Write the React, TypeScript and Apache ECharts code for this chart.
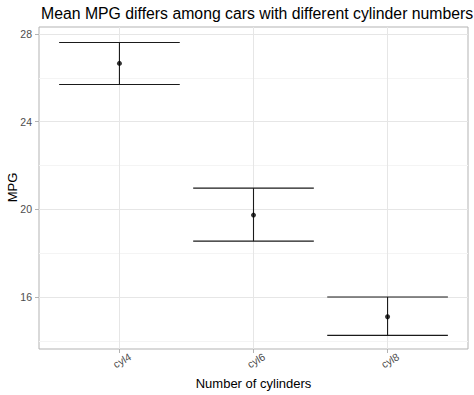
import React, { useEffect, useRef } from "react";
import * as echarts from "echarts";

const categories = ["cyl4", "cyl6", "cyl8"];
const means = [26.66, 19.74, 15.1];
const lowers = [25.7, 18.55, 14.25];
const uppers = [27.61, 20.97, 16.0];
const yMajorTicks = [16, 20, 24, 28];
const yMinorTicks = [14, 18, 22, 26];
const xTicks = [1, 2, 3];

export default function App() {
  const ref = useRef<HTMLDivElement>(null);
  useEffect(() => {
    if (!ref.current) return;
    const chart = echarts.init(ref.current, null, { renderer: "svg" });
    const font = "Liberation Sans, Arial, sans-serif";
    const barData = categories.map((_, i) => [i + 1, lowers[i], uppers[i]]);
    const pointData = categories.map((_, i) => [i + 1, means[i]]);
    const gridLine = (v: number, axis: "x" | "y", color: string) =>
      axis === "x"
        ? { xAxis: v, lineStyle: { color, width: 1, type: "solid" } }
        : { yAxis: v, lineStyle: { color, width: 1, type: "solid" } };
    chart.setOption({
      animation: false,
      backgroundColor: "#ffffff",
      title: {
        text: "Mean MPG differs among cars with different cylinder numbers",
        left: 36,
        top: 0,
        textStyle: { fontFamily: font, fontSize: 15.8, fontWeight: "normal", color: "#000000" },
      },
      graphic: [
        {
          type: "text",
          x: 12.5,
          y: 187.5,
          rotation: Math.PI / 2,
          style: {
            text: "MPG",
            fontFamily: font,
            fontSize: 13,
            fill: "#000000",
            align: "center",
            verticalAlign: "middle",
          },
        },
      ],
      grid: {
        left: 39,
        right: 6,
        top: 27,
        bottom: 46,
        containLabel: false,
        outerBoundsMode: "none",
        show: true,
        borderColor: "#b3b3b3",
        borderWidth: 1,
        backgroundColor: "transparent",
      },
      xAxis: {
        type: "value",
        min: 0.4,
        max: 3.6,
        name: "Number of cylinders",
        nameLocation: "middle",
        nameGap: 25,
        nameTextStyle: { fontFamily: font, fontSize: 13, color: "#000000" },
        axisLine: { show: false },
        axisTick: { show: true, length: 4, customValues: xTicks, lineStyle: { color: "#b3b3b3" } },
        axisLabel: {
          customValues: xTicks,
          formatter: (v: number) => categories[Math.round(v) - 1] ?? "",
          rotate: 30,
          align: "center",
          verticalAlign: "top",
          margin: 7,
          fontFamily: font,
          fontSize: 10.5,
          color: "#4d4d4d",
        },
        splitLine: { show: false },
      },
      yAxis: {
        type: "value",
        min: 13.63,
        max: 28.32,
        axisLine: { show: false },
        axisTick: { show: true, length: 4, customValues: yMajorTicks, lineStyle: { color: "#b3b3b3" } },
        axisLabel: {
          customValues: yMajorTicks,
          formatter: (v: number) => String(v),
          margin: 7,
          fontFamily: font,
          fontSize: 10.5,
          color: "#4d4d4d",
        },
        splitLine: { show: false },
      },
      series: [
        {
          type: "scatter",
          data: pointData,
          symbol: "circle",
          symbolSize: 5,
          itemStyle: { color: "#000000" },
          z: 5,
          markLine: {
            silent: true,
            symbol: "none",
            label: { show: false },
            z: 1,
            data: [
              ...yMinorTicks.map((v) => gridLine(v, "y", "#f4f4f4")),
              ...yMajorTicks.map((v) => gridLine(v, "y", "#e6e6e6")),
              ...xTicks.map((v) => gridLine(v, "x", "#e6e6e6")),
            ],
          },
        },
        {
          type: "custom",
          data: barData,
          z: 4,
          renderItem: (params: any, api: any) => {
            const x = api.value(0);
            const lo = api.value(1);
            const hi = api.value(2);
            const pLo = api.coord([x, lo]);
            const pHi = api.coord([x, hi]);
            const left = api.coord([x - 0.45, lo])[0];
            const right = api.coord([x + 0.45, lo])[0];
            const style = { stroke: "#1a1a1a", lineWidth: 1.1 };
            return {
              type: "group",
              children: [
                { type: "line", shape: { x1: pLo[0], y1: pLo[1], x2: pHi[0], y2: pHi[1] }, style },
                { type: "line", shape: { x1: left, y1: pHi[1], x2: right, y2: pHi[1] }, style },
                { type: "line", shape: { x1: left, y1: pLo[1], x2: right, y2: pLo[1] }, style },
              ],
            };
          },
        },
      ],
    });
    return () => chart.dispose();
  }, []);
  return <div ref={ref} style={{ width: 474, height: 395, position: "fixed", left: 0, top: 0 }} />;
}
